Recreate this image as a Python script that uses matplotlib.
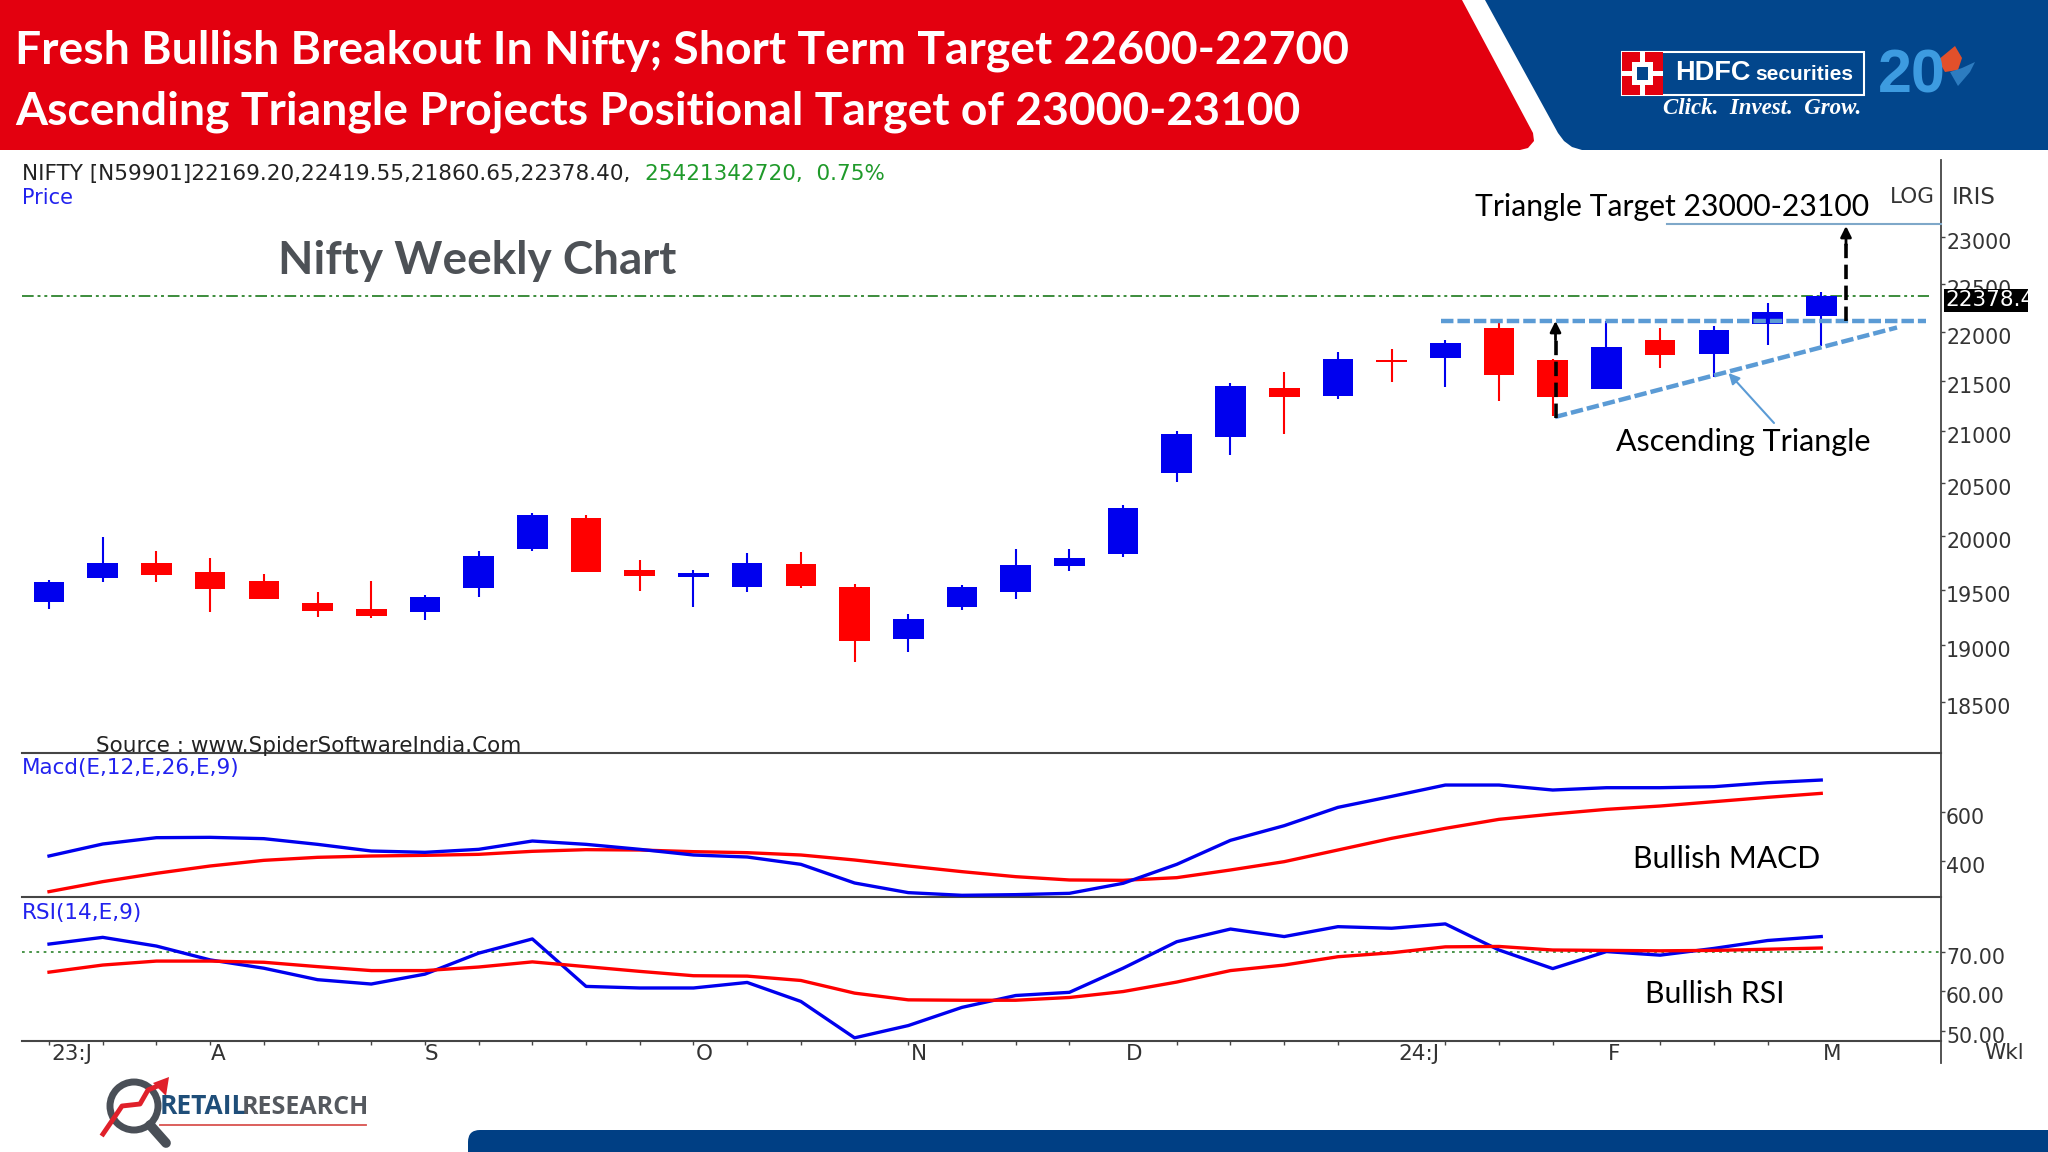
import numpy as np
import matplotlib
matplotlib.use('Agg')
import matplotlib.pyplot as plt
from matplotlib.patches import Polygon, Rectangle, FancyBboxPatch, Circle

# weekly candles
opens = [19389, 19604, 19746, 19663, 19575, 19376, 19321, 19292, 19516, 19876, 20161, 19679, 19614, 19526, 19733, 19519, 19051,
         19338, 19477, 19717, 19829, 20594, 20948, 21434, 21349, 21717, 21734, 22046, 21717, 21423, 21917, 21782, 22085, 22169.20]
closes = [19565, 19746, 19637, 19503, 19415, 19302, 19257, 19431, 19812, 20191, 19660, 19624, 19653, 19746, 19532, 19038, 19231,
          19519, 19723, 19793, 20262, 20973, 21455, 21342, 21731, 21695, 21891, 21565, 21342, 21851, 21771, 22028, 22205, 22378.40]
highs = [19585, 19982, 19859, 19789, 19644, 19473, 19575, 19454, 19859, 20215, 20191, 19768, 19676, 19839, 19846, 19552, 19276,
         19542, 19873, 19873, 20286, 21005, 21484, 21593, 21793, 21830, 21917, 22120, 21724, 22113, 22046, 22069, 22299, 22419.55]
lows = [19325, 19568, 19568, 19299, 19415, 19253, 19237, 19225, 19434, 19859, 19660, 19487, 19338, 19477, 19513, 18845, 18940,
        19312, 19415, 19667, 19802, 20508, 20767, 20973, 21327, 21491, 21444, 21302, 21150, 21423, 21633, 21547, 21866, 21860.65]

macd = [420.4, 469.4, 495.2, 496.6, 491.2, 468, 440.8, 435.4, 447.6, 481.6, 468, 447.6, 424.5, 416.3, 386.4, 310.2, 270.8,
        259.9, 262.6, 268, 308.9, 386.4, 484.4, 544.2, 619, 663.9, 710.2, 710.2, 689.8, 699.3, 699.3, 703.4, 719.7, 730.6]
macd_signal = [274.8, 315.7, 349.7, 379.6, 402.7, 415, 420.4, 423.1, 427.2, 439.5, 446.3, 444.9, 438.1, 434, 424.5, 404.1, 379.6,
               356.5, 336, 322.5, 321.1, 332, 363.3, 397.3, 444.9, 492.5, 533.3, 570.1, 591.8, 610.9, 624.5, 642.2, 659.9, 676.2]
rsi = [71.9, 73.6, 71.4, 67.9, 65.8, 62.9, 61.8, 64.3, 69.6, 73.2, 61.2, 60.8, 60.8, 62.2, 57.4, 48.2, 51.3,
       55.9, 58.9, 59.7, 65.8, 72.5, 75.7, 73.8, 76.3, 75.9, 77.0, 70.4, 65.7, 70, 69.1, 70.8, 72.8, 73.8]
rsi_signal = [64.8, 66.6, 67.6, 67.6, 67.3, 66.2, 65.2, 65.2, 66.1, 67.4, 66.2, 65, 63.9, 63.8, 62.7, 59.5, 57.8,
              57.7, 57.7, 58.4, 59.9, 62.3, 65.2, 66.6, 68.7, 69.7, 71.2, 71.3, 70.4, 70.3, 70.2, 70.3, 70.6, 70.9]

price_ticks = [18500, 19000, 19500, 20000, 20500, 21000, 21500, 22000, 22500, 23000]
macd_ticks = [400, 600]
rsi_ticks = [50, 60, 70]
month_labels = ['23:J', 'A', 'S', 'O', 'N', 'D', '24:J', 'F', 'M']
month_pos = [0.43, 3.15, 7.13, 12.2, 16.2, 20.2, 25.5, 29.15, 33.2]

BLUE = '#0000ee'
RED = '#ff0000'
LINE = '#454545'
TRI = '#5b9bd5'
CHART_FONT = 'DejaVu Sans'
NOTE_FONT = 'Lato'

W, H = 2048, 1152
fig = plt.figure(figsize=(20.48, 11.52), dpi=100, facecolor='white')
xs = np.arange(len(closes))


def panel(top, bottom):
    a = fig.add_axes([22 / W, 1 - bottom / H, (1941 - 22) / W, (bottom - top) / H])
    a.set_xlim(-0.503, 35.23)
    a.patch.set_alpha(0)
    for s in ['top', 'left', 'right']:
        a.spines[s].set_visible(False)
    a.spines['bottom'].set_color(LINE)
    a.spines['bottom'].set_linewidth(1.5)
    a.set_xticks([])
    a.yaxis.tick_right()
    a.minorticks_off()
    a.tick_params(axis='y', length=3, width=1, color=LINE, pad=0, labelright=False, which='both')
    return a


def right_labels(a, ticks, fmt):
    for t in ticks:
        a.annotate(fmt % t, (1, t), xycoords=('axes fraction', 'data'), xytext=(5, -6),
                   textcoords='offset pixels', ha='left', va='center', fontsize=14.8,
                   family=CHART_FONT, color='#333333', annotation_clip=False)


# price panel
ax = panel(160, 753)
ax.set_yscale('log')
ax.set_ylim(18061, 23851)
ax.set_yticks(price_ticks)
ax.minorticks_off()
ax.tick_params(axis='y', labelright=False)
for i in xs:
    c = BLUE if closes[i] >= opens[i] else RED
    ax.vlines(i, lows[i], highs[i], color=c, lw=1.5, zorder=2)
    ax.bar(i, abs(closes[i] - opens[i]), bottom=min(opens[i], closes[i]), width=0.57, color=c, zorder=3)
ax.hlines(closes[-1], -0.5, 35, color='#3c8c3c', lw=1.4, linestyles=(0, (6, 2, 1.5, 2, 1.5, 2)), zorder=1)
right_labels(ax, price_ticks, '%d')

# macd panel
ax2 = panel(753, 897)
ax2.set_ylim(253, 841)
ax2.plot(xs, macd_signal, color=RED, lw=2.4, zorder=2)
ax2.plot(xs, macd, color=BLUE, lw=2.4, zorder=3)
ax2.set_yticks(macd_ticks)
right_labels(ax2, macd_ticks, '%d')

# rsi panel
ax3 = panel(897, 1041)
ax3.set_ylim(47.4, 83.8)
ax3.plot(xs, rsi_signal, color=RED, lw=2.4, zorder=3)
ax3.plot(xs, rsi, color=BLUE, lw=2.4, zorder=2)
ax3.hlines(70, -0.5, 35.23, color='#3c8c3c', lw=1.3, linestyles=(0, (1.5, 2.5)), zorder=1)
ax3.set_yticks(rsi_ticks)
right_labels(ax3, rsi_ticks, '%.2f')
ax3.set_xticks([i for i in xs if i not in (20, 25, 29, 33)])
ax3.set_xticklabels([])
ax3.tick_params(axis='x', length=3, width=1, color=LINE)
for lab, p in zip(month_labels, month_pos):
    ax3.annotate(lab, (p, 0), xycoords=('data', 'axes fraction'), xytext=(0, -13), textcoords='offset pixels',
                 ha='center', va='center', fontsize=15.5, family=CHART_FONT, color='#333333', annotation_clip=False)

# overlay in pixel coordinates for the slide furniture
ov = fig.add_axes([0, 0, 1, 1], zorder=10)
ov.set_xlim(0, W)
ov.set_ylim(H, 0)
ov.axis('off')
ov.patch.set_alpha(0)

# header
ov.add_patch(Polygon([(0, 0), (1462, 0), (1533, 133), (1534, 141), (1528, 148), (1520, 150), (0, 150)], fc='#e3000f', ec='none'))
ov.add_patch(Polygon([(1485, 0), (2048, 0), (2048, 150), (1582, 150), (1572, 147), (1564, 141), (1558, 133)], fc='#02468c', ec='none'))
ov.text(15, 51, 'Fresh Bullish Breakout In Nifty; Short Term Target 22600-22700', color='white', fontsize=33.3,
        family='Lato', weight='bold', va='center')
ov.text(15, 112, 'Ascending Triangle Projects Positional Target of 23000-23100', color='white', fontsize=33.3,
        family='Lato', weight='bold', va='center')

# hdfc logo
ov.add_patch(Rectangle((1622, 52), 242, 43, fc='none', ec='white', lw=1.5))
ov.add_patch(Rectangle((1622, 52), 41, 43, fc='#e3000f', ec='none'))
ov.add_patch(Rectangle((1632, 62), 21, 23, fc='white', ec='none'))
ov.add_patch(Rectangle((1622, 71), 41, 5, fc='white', ec='none'))
ov.add_patch(Rectangle((1640, 52), 5, 43, fc='white', ec='none'))
ov.add_patch(Rectangle((1637, 67), 11, 13, fc='#02468c', ec='none'))
ov.text(1675, 73, 'HDFC', color='white', fontsize=19.5, family='Liberation Sans', weight='bold', va='center')
ov.text(1755, 74, 'securities', color='white', fontsize=15, family='Liberation Sans', weight='bold', va='center')
ov.text(1663, 108, 'Click.  Invest.  Grow.', color='white', fontsize=16.5, family='Liberation Serif', style='italic',
        weight='bold', va='center')
ov.text(1878, 77, '20', color='#3d9be0', fontsize=44, family='Liberation Sans', weight='bold', va='center')
ov.add_patch(Polygon([(1945, 72), (1938, 60), (1955, 46), (1962, 58), (1958, 70)], fc='#e2502b', ec='none'))
ov.add_patch(Polygon([(1950, 72), (1962, 68), (1975, 62), (1970, 72), (1958, 86)], fc='#2d7cc0', ec='none'))

# chart captions
ov.text(22, 174, 'NIFTY [N59901]22169.20,22419.55,21860.65,22378.40,', fontsize=15.5, family=CHART_FONT, color='#222222', va='center')
ov.text(645, 174, '25421342720,  0.75%', fontsize=15.5, family=CHART_FONT, color='#1f9a2a', va='center')
ov.text(22, 197.5, 'Price', fontsize=15, family=CHART_FONT, color='#2222ee', va='center')
ov.text(278, 261, 'Nifty Weekly Chart', fontsize=33, family=NOTE_FONT, weight='bold', color='#4d5156', va='center')
ov.text(96, 746, 'Source : www.SpiderSoftwareIndia.Com', fontsize=15.5, family=CHART_FONT, color='#222222', va='center')
ov.text(22, 768, 'Macd(E,12,E,26,E,9)', fontsize=15.5, family=CHART_FONT, color='#2222ee', va='center')
ov.text(22, 913, 'RSI(14,E,9)', fontsize=15.5, family=CHART_FONT, color='#2222ee', va='center')
ov.text(1890, 197, 'LOG', fontsize=15.5, family=CHART_FONT, color='#333333', va='center')
ov.text(1952, 197, 'IRIS', fontsize=16.5, family=CHART_FONT, color='#333333', va='center')
ov.text(2004, 1053, 'Wkl', fontsize=15.5, family=CHART_FONT, color='#333333', va='center', ha='center')

# right hand axis line and last price box
ov.plot([1941, 1941], [160, 1063], color=LINE, lw=1.3)
ov.add_patch(Rectangle((1944, 289), 84, 23, fc='black', ec='none', zorder=5))
ov.text(1945, 300.5, '22378.4', fontsize=15.5, family=CHART_FONT, color='white', va='center', zorder=6,
        clip_on=True, clip_box=matplotlib.transforms.Bbox([[1944, H - 312], [2028, H - 289]]))

# hand drawn triangle and targets
ov.plot([1441, 1926], [320.7, 320.7], color=TRI, lw=3.2, ls=(0, (2.8, 0.9)))
ov.plot([1555, 1897], [417, 327.5], color=TRI, lw=3.2, ls=(0, (2.8, 0.9)))
ov.annotate('', xy=(1728.6, 373), xytext=(1774, 423), arrowprops=dict(arrowstyle='-|>', color=TRI, lw=1.5, mutation_scale=16, shrinkA=0, shrinkB=0))
ov.plot([1667, 1941], [224, 224], color='#7fa8c9', lw=1.5)
ov.plot([1555.5, 1555.5], [418, 335], color='black', lw=2.6, ls=(0, (4, 1.8)))
ov.annotate('', xy=(1555.5, 321), xytext=(1555.5, 340), arrowprops=dict(arrowstyle='-|>', color='black', lw=2, mutation_scale=16, shrinkA=0, shrinkB=0))
ov.plot([1846, 1846], [321, 240], color='black', lw=2.6, ls=(0, (4, 1.8)))
ov.annotate('', xy=(1846, 226), xytext=(1846, 245), arrowprops=dict(arrowstyle='-|>', color='black', lw=2, mutation_scale=16, shrinkA=0, shrinkB=0))
ov.text(1475, 207, 'Triangle Target 23000-23100', fontsize=21.7, family=NOTE_FONT, color='black', va='center')
ov.text(1616, 442, 'Ascending Triangle', fontsize=22, family=NOTE_FONT, color='black', va='center')
ov.text(1633, 859, 'Bullish MACD', fontsize=21.7, family=NOTE_FONT, color='black', va='center')
ov.text(1645, 994, 'Bullish RSI', fontsize=21.7, family=NOTE_FONT, color='black', va='center')

# retail research logo and footer bar
ov.add_patch(Circle((134, 1106), 24, fc='none', ec='#4a4f57', lw=5))
ov.plot([150, 166], [1125, 1143], color='#4a4f57', lw=7, solid_capstyle='round')
ov.plot([103, 118, 122, 140, 148, 160], [1134, 1112, 1106, 1104, 1090, 1085], color='#e0202a', lw=3.5)
ov.add_patch(Polygon([(153, 1083), (169, 1077), (166, 1096)], fc='#e0202a', ec='none'))
ov.text(160, 1107, 'RETAIL', fontsize=19, family='Open Sans', weight='bold', color='#1f4e79', va='center')
ov.text(242, 1107, 'RESEARCH', fontsize=18, family='Open Sans', weight='bold', color='#55595f', va='center')
ov.plot([160, 366], [1125, 1125], color='#d9534f', lw=1.3)
ov.add_patch(FancyBboxPatch((480, 1130), 1600, 40, boxstyle='round,pad=0,rounding_size=12', mutation_aspect=1, fc='#003f84', ec='none'))
ov.add_patch(FancyBboxPatch((468, 1130), 40, 40, boxstyle='round,pad=0,rounding_size=12', fc='#003f84', ec='none'))

fig.savefig('out.png', dpi=100)
